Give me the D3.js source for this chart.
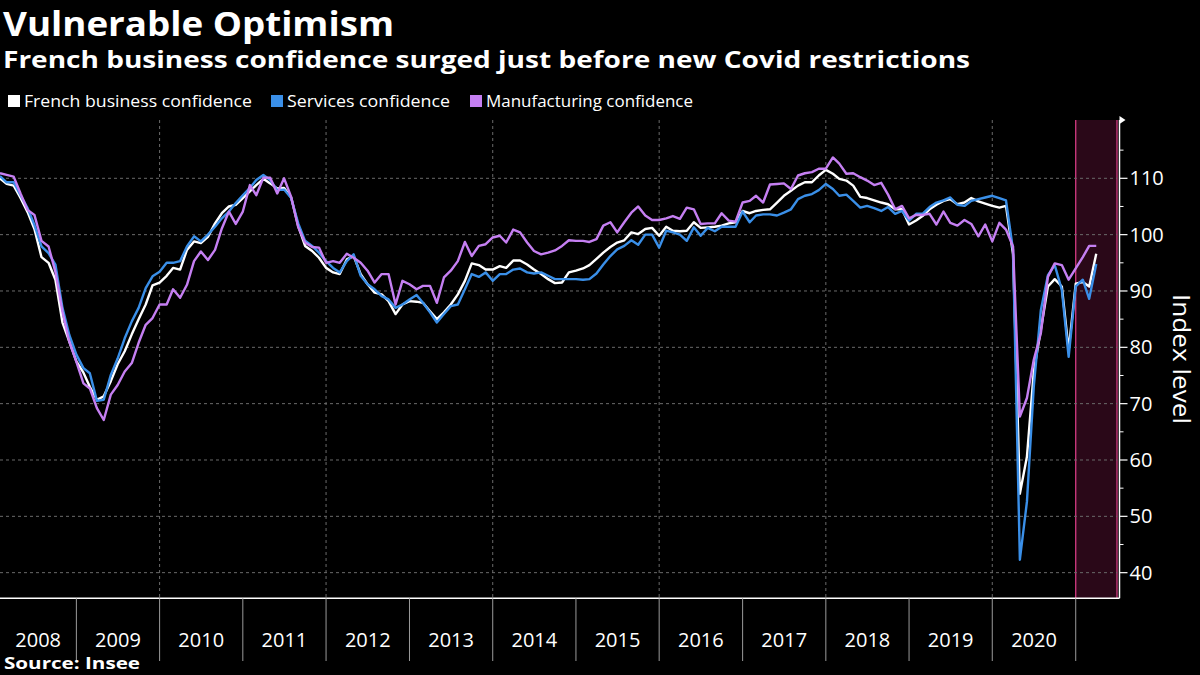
<!DOCTYPE html>
<html><head><meta charset="utf-8">
<script src="https://cdn.jsdelivr.net/npm/d3@7"></script>
<style>html,body{margin:0;padding:0;background:#000;} svg{display:block;}</style>
</head><body>
<svg id="chart" width="1200" height="675"></svg>
<script>
// ---------------- DATA (monthly, Jan 2008 -> Mar 2021) ----------------
const firstMonth = "2008-01";
const business = [
110,109,108.7,106.5,104,101,96,95,92,84.4,81,77.5,
75.5,73,70.7,71.3,74,77,79.3,82.3,85,87.6,91,91.5,
92.7,94.1,93.8,97.3,98.8,98.5,99.6,102,103.8,105,105.3,106.5,
107.7,108.8,109.9,109.1,108.2,108.3,106.6,101.5,98,97.1,95.9,94.1,
93.3,93,95.6,96.2,93,91.2,89.7,89.4,88.2,85.9,87.6,88.2,
88.1,87.9,86.4,85,86.2,87.6,89.4,91.8,94.9,94.6,93.8,93.8,
94.4,94.1,95.4,95.4,94.7,93.8,93,92.1,91.4,91.5,93.3,93.6,
94,94.6,95.7,96.8,97.8,98.6,99,100.4,100.1,101,101.2,99.8,
101.4,100.7,100.6,100.7,102.2,101.2,101.3,101.4,101.6,102,102.2,104.2,
103.8,104.2,104.4,104.5,105.7,106.9,107.8,108.7,109.3,109.3,110.5,111.5,
110.8,109.9,109.6,108.7,106.7,106.5,106.1,105.7,105.4,104.5,104.5,101.8,
102.5,103.3,104.5,105.3,106,106.3,105.4,105.7,106.5,105.9,105.5,105.1,
104.8,105.1,96.5,54,60.6,75.7,83.1,90.8,92.1,90.8,79.5,91.3,
91.6,90.8,96.6];
const services = [
110.4,109.3,109.3,107,104.7,101.7,97.9,96.7,94.7,87,82.2,78.7,
76.3,75.4,70.5,70.7,75.1,78,81.6,84.6,87,90.5,92.6,93.4,
95,95,95.3,97.9,99.7,98.8,100,101.4,102.9,104.1,105.6,107,
108.3,109.7,110.6,109.7,107.9,108,106.5,102,98.9,98,96.8,95.3,
94.1,93.3,95.3,96.5,92.7,91.2,90.3,89.1,88.5,87,87.6,88.5,
89.3,87.9,86.2,84.4,85.9,87.3,87.6,90.3,93,92.5,93.3,91.8,
93,93,93.8,94,93.3,93.1,93.3,92.7,92.1,92.1,92.1,92.1,
92,92.1,93.1,94.7,96.2,97.4,98,99,98.2,100,100,97.7,
100.7,100.4,100,98.9,101.3,99.8,101.2,100.6,101.4,101.4,101.4,104.1,
102.2,103.4,103.6,103.6,103.4,103.9,104.5,106.3,106.9,107.2,107.9,109,
108.1,106.9,107.1,106,104.8,105.1,104.7,104.2,104.9,103.7,104.2,102.5,
103.7,103.7,104.9,105.7,106.1,106.6,105.3,105.1,106,106.3,106.6,106.9,
106.5,106.1,97.3,42.3,52.6,73,86.6,92.8,94.6,90.2,78.3,90.8,
92,88.6,94.8];
const manufacturing = [
110.9,110.6,110.3,107.3,104.4,103.5,98.9,97.9,93.4,86.3,81,77.4,
73.6,72.7,69.2,67.1,71.6,73.3,75.7,77.2,80.8,84,85.2,87.6,
87.6,90.3,88.8,91.1,95.3,97,95.5,97.3,101.1,104.1,101.9,104.1,
108.8,107,110.1,110.1,107.3,110,106.7,101.3,98.6,97.8,97.7,95,
95.3,95,96.6,95.9,95,93.6,91.5,93,93,87.6,91.8,91.2,
90.3,90.9,90.9,87.9,92.4,93.6,95.3,98.7,96.2,98,98.3,99.5,
99.8,98.6,100.9,100.4,98.6,97.1,96.5,96.8,97.2,98,99,98.9,
98.9,98.7,99.2,101.6,102.2,100.4,102.2,103.9,105,103.4,102.6,102.6,
102.9,103.3,102.8,104.8,104.5,101.9,102,102,103.8,102.5,102.3,105.7,
106,106.9,105.7,108.9,109,109.1,108.1,110.5,110.9,111.1,111.7,111.7,
113.7,112.6,110.8,110.9,110.2,109.6,108.8,109.2,107.1,104.5,105.1,102.9,
103.5,103.5,103.7,101.8,104.1,102.1,101.6,102.6,101.9,99.7,101.8,98.8,
102.1,100.9,97.9,67.7,71,77.8,82.5,92.5,94.9,94.6,92,94,
96,98,98];
const seriesNames = ["French business confidence","Services confidence","Manufacturing confidence"];
const seriesColors = ["#ffffff","#3a8fe8","#c57ff2"];
const yearLabels = ["2008","2009","2010","2011","2012","2013","2014","2015","2016","2017","2018","2019","2020"];
const yTickValues = [40,50,60,70,80,90,100,110];
const highlightStart = "2021-01";

// ---------------- LAYOUT ----------------
const svg = d3.select("#chart");
const W = 1200, H = 675;
const plot = {left: 0, right: 1117, top: 120, bottom: 598.3};

const parseM = d3.timeParse("%Y-%m");
const t0 = parseM(firstMonth);
// each monthly value is plotted at the end of its month
const dates = business.map((_, i) => d3.timeMonth.offset(t0, i + 1));

const x = d3.scaleTime()
  .domain([d3.timeMonth.offset(t0, 1), new Date(2021, 6, 1)])
  .range([plot.left, plot.right]);
const y = d3.scaleLinear().domain([35.45, 120.35]).range([plot.bottom, plot.top]);

svg.append("rect").attr("width", W).attr("height", H).attr("fill", "#000");

// highlight region
const hx0 = x(parseM(highlightStart)), hx1 = x.range()[1];
svg.append("rect").attr("x", hx0).attr("y", plot.top).attr("width", hx1 - hx0)
  .attr("height", plot.bottom - plot.top).attr("fill", "#2a0818");
[hx0, hx1].forEach(v => svg.append("line").attr("x1", v).attr("x2", v)
  .attr("y1", plot.top).attr("y2", plot.bottom).attr("stroke", "#e2408c").attr("stroke-width", 1.2));

// horizontal gridlines
svg.append("g").selectAll("line").data(yTickValues).join("line")
  .attr("x1", plot.left).attr("x2", plot.right)
  .attr("y1", d => y(d)).attr("y2", d => y(d))
  .attr("stroke", "#6a6a6a").attr("stroke-width", 1).attr("stroke-dasharray", "3,3");

// vertical gridlines every two years
const gridYears = d3.timeYear.range(new Date(2010,0,1), new Date(2021,0,2), 2);
svg.append("g").selectAll("line").data(gridYears).join("line")
  .attr("x1", d => x(d)).attr("x2", d => x(d))
  .attr("y1", plot.top).attr("y2", plot.bottom)
  .attr("stroke", "#6a6a6a").attr("stroke-width", 1).attr("stroke-dasharray", "3,3");

// lines
const line = d3.line().x((d, i) => x(dates[i])).y(d => y(d));
const allSeries = [business, services, manufacturing];
const clip = svg.append("clipPath").attr("id", "clip").append("rect")
  .attr("x", plot.left).attr("y", plot.top - 5).attr("width", plot.right - plot.left).attr("height", plot.bottom - plot.top + 5);
const lg = svg.append("g").attr("clip-path", "url(#clip)");
[0, 1, 2].forEach(k => {
  lg.append("path").datum(allSeries[k]).attr("d", line)
    .attr("fill", "none").attr("stroke", seriesColors[k])
    .attr("stroke-width", 2.4).attr("stroke-linejoin", "round");
});

// x axis baseline
svg.append("line").attr("x1", 0).attr("x2", 1119.5).attr("y1", plot.bottom).attr("y2", plot.bottom)
  .attr("stroke", "#fff").attr("stroke-width", 1.5);

// year separators below axis
const yearBounds = d3.timeYear.range(new Date(2009,0,1), new Date(2021,0,2));
svg.append("g").selectAll("line").data(yearBounds).join("line")
  .attr("x1", d => x(d)).attr("x2", d => x(d))
  .attr("y1", plot.bottom).attr("y2", 661)
  .attr("stroke", "#9a9a9a").attr("stroke-width", 1);

// year labels, centred on visible span of each year
svg.append("g").selectAll("text").data(yearLabels).join("text")
  .attr("x", d => {
    const a = Math.max(plot.left, x(new Date(+d, 0, 1)));
    const b = Math.min(plot.right, x(new Date(+d + 1, 0, 1)));
    return (a + b) / 2;
  })
  .attr("y", 647).attr("text-anchor", "middle")
  .attr("fill", "#fff").attr("font-family", "'Open Sans', sans-serif").attr("font-size", 20)
  .text(d => d);

// right y axis
const axX = 1119.5;
svg.append("line").attr("x1", axX).attr("x2", axX).attr("y1", plot.top).attr("y2", plot.bottom)
  .attr("stroke", "#fff").attr("stroke-width", 1.5);
svg.append("path").attr("d", `M${axX},${plot.top - 4}L${axX + 6},${plot.top}L${axX},${plot.top + 4}Z`).attr("fill", "#fff");
const minorTicks = d3.range(40, 120, 5).filter(v => v % 10 !== 0);
svg.append("g").selectAll("line").data(minorTicks).join("line")
  .attr("x1", axX).attr("x2", axX + 4).attr("y1", d => y(d)).attr("y2", d => y(d))
  .attr("stroke", "#fff").attr("stroke-width", 1);
svg.append("g").selectAll("line").data(yTickValues).join("line")
  .attr("x1", axX).attr("x2", axX + 8).attr("y1", d => y(d)).attr("y2", d => y(d))
  .attr("stroke", "#fff").attr("stroke-width", 1.2);
svg.append("g").selectAll("text").data(yTickValues).join("text")
  .attr("x", axX + 10).attr("y", d => y(d) + 7)
  .attr("fill", "#fff").attr("font-family", "'Open Sans', sans-serif").attr("font-size", 20)
  .text(d => d);
svg.append("text").attr("transform", "translate(1173,359) rotate(90)")
  .attr("text-anchor", "middle").attr("fill", "#fff")
  .attr("font-family", "'Open Sans', sans-serif").attr("font-size", 23)
  .attr("textLength", 130).attr("lengthAdjust", "spacingAndGlyphs")
  .text("Index level");

// titles
svg.append("text").attr("x", 3).attr("y", 36).attr("fill", "#fff")
  .attr("font-family", "'Open Sans', sans-serif").attr("font-weight", 700).attr("font-size", 34)
  .attr("textLength", 391).attr("lengthAdjust", "spacingAndGlyphs")
  .text("Vulnerable Optimism");
svg.append("text").attr("x", 3).attr("y", 68).attr("fill", "#fff")
  .attr("font-family", "'Open Sans', sans-serif").attr("font-weight", 700).attr("font-size", 24)
  .attr("textLength", 967).attr("lengthAdjust", "spacingAndGlyphs")
  .text("French business confidence surged just before new Covid restrictions");

// legend
const legendX = [8, 271, 470];
const legendW = [228, 163, 207];
const leg = svg.append("g");
seriesNames.forEach((n, k) => {
  leg.append("rect").attr("x", legendX[k]).attr("y", 95).attr("width", 12).attr("height", 12).attr("fill", seriesColors[k]);
  leg.append("text").attr("x", legendX[k] + 16).attr("y", 107).attr("fill", "#fff")
    .attr("font-family", "'Open Sans', sans-serif").attr("font-size", 17)
    .attr("textLength", legendW[k]).attr("lengthAdjust", "spacingAndGlyphs")
    .text(n);
});

// source
svg.append("text").attr("x", 4).attr("y", 669).attr("fill", "#fff")
  .attr("font-family", "'Open Sans', sans-serif").attr("font-weight", 700).attr("font-size", 16)
  .attr("textLength", 136).attr("lengthAdjust", "spacingAndGlyphs")
  .text("Source: Insee");
</script>
</body></html>
